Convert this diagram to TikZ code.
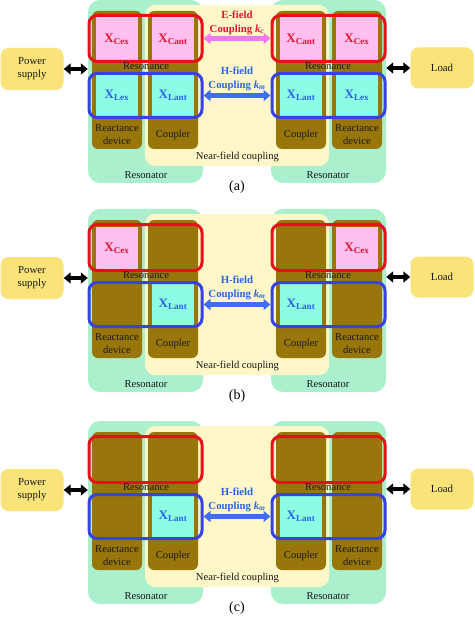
\documentclass[tikz,border=0pt]{standalone}
\usepackage{fontspec}
\setmainfont{Liberation Serif}
\usetikzlibrary{arrows.meta}
\definecolor{resgreen}{RGB}{170,240,204}
\definecolor{nfyellow}{RGB}{255,247,200}
\definecolor{colbrown}{RGB}{152,118,12}
\definecolor{cellpink}{RGB}{255,192,240}
\definecolor{cellcyan}{RGB}{140,252,228}
\definecolor{boxyellow}{RGB}{250,228,122}
\definecolor{rred}{RGB}{232,16,24}
\definecolor{rblue}{RGB}{56,64,232}
\definecolor{arrpink}{RGB}{240,120,240}
\definecolor{arrblue}{RGB}{64,110,240}
\definecolor{txtred}{RGB}{225,20,50}
\definecolor{txtblue}{RGB}{40,100,230}
\definecolor{txtdark}{RGB}{25,25,25}
\tikzset{
  resbox/.style={fill=resgreen, rounded corners=12pt, minimum width=115pt, minimum height=183pt, inner sep=0pt, draw=none},
  nfbox/.style={fill=nfyellow, rounded corners=10pt, minimum width=184pt, minimum height=161pt, inner sep=0pt, draw=none},
  colbox/.style={fill=colbrown, rounded corners=6pt, minimum width=50pt, minimum height=138pt, inner sep=0pt, draw=none},
  cellbox/.style={minimum width=42pt, minimum height=43pt, inner sep=0pt, draw=none},
  pinkcell/.style={cellbox, fill=cellpink, text=txtred},
  cyancell/.style={cellbox, fill=cellcyan, text=txtblue},
  ringbox/.style={line width=3pt, rounded corners=8pt, minimum width=113pt, inner sep=0pt, fill=none},
  redring/.style={ringbox, draw=rred, minimum height=46pt},
  bluering/.style={ringbox, draw=rblue, minimum height=44pt},
  endbox/.style={fill=boxyellow, rounded corners=8pt, minimum width=63pt, minimum height=42pt, inner sep=0pt, align=center, text=txtdark, font=\fontsize{10.8}{13}\selectfont},
  lbl/.style={inner sep=0pt, text=txtdark, font=\fontsize{10.6}{13}\selectfont, align=center},
  cpl/.style={inner sep=0pt, font=\fontsize{10.8}{14}\selectfont\bfseries, align=center},
  blkarrow/.style={line width=4pt, {Triangle[width=11pt,length=7pt]}-{Triangle[width=11pt,length=7pt]}, black},
  earrow/.style={line width=5pt, {Triangle[width=11pt,length=7pt]}-{Triangle[width=11pt,length=7pt]}, arrpink},
  harrow/.style={line width=5pt, {Triangle[width=11pt,length=7pt]}-{Triangle[width=11pt,length=7pt]}, arrblue},
  panlbl/.style={inner sep=0pt, font=\fontsize{14}{16}\selectfont}
}
\newcommand\cellX[1]{{\fontsize{13}{13}\selectfont\textbf{X}\textsubscript{\textbf{#1}}}}
\newcommand\drawpanel[3]{%
\begin{scope}[yshift=-#2pt]
  \node[resbox] (resL#1) at (145.5,91.5) {};
  \node[resbox] (resR#1) at (328.5,91.5) {};
  \node[nfbox] (nf#1) at (237,85.5) {};
  \node[colbox] (colRL#1) at (117,80) {};
  \node[colbox] (colCL#1) at (173,80) {};
  \node[colbox] (colCR#1) at (301,80) {};
  \node[colbox] (colRR#1) at (357,80) {};
  \ifnum#3<3
    \node[pinkcell] (cexL#1) at (117,39) {\cellX{Cex}};
    \node[pinkcell] (cexR#1) at (357,39) {\cellX{Cex}};
  \fi
  \ifnum#3=1
    \node[pinkcell] (cantL#1) at (173,39) {\cellX{Cant}};
    \node[pinkcell] (cantR#1) at (301,39) {\cellX{Cant}};
    \node[cyancell] (lexL#1) at (117,95.5) {\cellX{Lex}};
    \node[cyancell] (lexR#1) at (357,95.5) {\cellX{Lex}};
  \fi
  \node[cyancell] (lantL#1) at (173,95.5) {\cellX{Lant}};
  \node[cyancell] (lantR#1) at (301,95.5) {\cellX{Lant}};
  \node[redring] (redL#1) at (145.5,38.5) {};
  \node[redring] (redR#1) at (328.5,38.5) {};
  \node[bluering] (bluL#1) at (145.5,95.5) {};
  \node[bluering] (bluR#1) at (328.5,95.5) {};
  \node[lbl] (rsnL#1) at (146,66) {Resonance};
  \node[lbl] (rsnR#1) at (328,66.5) {Resonance};
  \node[lbl] (rdL#1) at (117,134.5) {Reactance\\device};
  \node[lbl] (rdR#1) at (357,134.5) {Reactance\\device};
  \node[lbl] (cpL#1) at (173,135) {Coupler};
  \node[lbl] (cpR#1) at (301,135) {Coupler};
  \node[lbl] (rtL#1) at (146,175) {Resonator};
  \node[lbl] (rtR#1) at (328,175) {Resonator};
  \node[lbl] (nft#1) at (237.5,157) {Near-field coupling};
  \node[endbox] (ps#1) at (32,69) {Power\\supply};
  \node[endbox, minimum height=41pt] (ld#1) at (442,68) {Load};
  \draw[blkarrow] (ps#1.east) -- (ps#1.east -| resL#1.west);
  \draw[blkarrow] (resR#1.east |- ld#1.west) -- (ld#1.west);
  \ifnum#3=1
    \node[cpl, text=txtred] (ef#1) at (237,22.5) {E-field\\Coupling \textit{k}\textsubscript{\textit{c}}};
    \draw[earrow] (redL#1.east) -- (redR#1.west);
  \fi
  \node[cpl, text=txtblue] (hf#1) at (237,78.5) {H-field\\Coupling \textit{k}\textsubscript{\textit{m}}};
  \draw[harrow] (bluL#1.east) -- (bluR#1.west);
  \node[panlbl] (pl#1) at (237,187) {(#1)};
\end{scope}}
\begin{document}
\begin{tikzpicture}[x=1pt,y=-1pt]
  \useasboundingbox[fill=white] (0,0) rectangle (474,620);
  \drawpanel{a}{0}{1}
  \drawpanel{b}{209}{2}
  \drawpanel{c}{421}{3}
\end{tikzpicture}
\end{document}
